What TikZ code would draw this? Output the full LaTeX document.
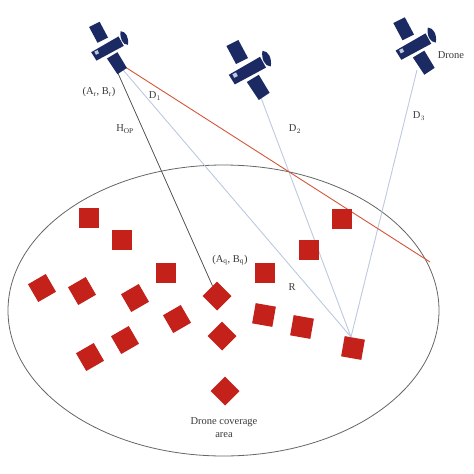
\documentclass[tikz,border=0pt]{standalone}
\usepackage{fontspec}
\setmainfont{Liberation Serif}
\usetikzlibrary{shapes.geometric}
\definecolor{navy}{HTML}{1B2A63}
\definecolor{sq}{HTML}{C4211A}
\definecolor{pale}{HTML}{BCC9DE}
\definecolor{redl}{HTML}{D4553A}
\definecolor{greyl}{HTML}{55565A}
\definecolor{txt}{HTML}{3A3A3C}
\tikzset{
  zone/.style={draw=black!60,line width=0.8pt,fill=white,ellipse,inner sep=0pt,minimum width=431pt,minimum height=291pt},
  cell/.style={fill=sq,draw=none,inner sep=0pt,minimum size=20.5pt},
  lab/.style={font=\fontsize{10.5}{13}\selectfont,text=txt,inner sep=0pt},
  beam/.style={draw=pale,line width=0.9pt},
  part/.style={fill=navy,draw=none},
  pics/sat/.style={code={
    \fill[part] (-18,-20) -- (-8,-25) -- (0,-10) -- (-10,-5) -- cycle;
    \fill[part] (-16,4) -- (10,-11) -- (15,-2) -- (-11,12) -- cycle;
    \fill[part] (-1,10) -- (9,4) -- (18,19) -- (9,25) -- cycle;
    \fill[part] (12,-16) .. controls (17,-16) and (20,-10) .. (19,-3) .. controls (14,-3) and (11,-9) .. (12,-16) -- cycle;
    \fill[pale] (-13,3.5) -- (-10,2) -- (-8.5,5) -- (-11.5,6.5) -- cycle;
  }}
}
\begin{document}
\begin{tikzpicture}[x=1pt,y=-1pt]
\useasboundingbox (0,0) rectangle (474,474);
\node[zone] (area) at (223.5,310.5) {};
\coordinate (s1a) at (117,71);
\coordinate (s1b) at (118,64);
\coordinate (s1c) at (122,65);
\coordinate (s2a) at (260,95);
\coordinate (s3a) at (417,70);
\coordinate (redend) at (430,262);
\node[cell,rotate=45] (q) at (217,296) {};
\node[cell,rotate=-10] (t) at (353,348) {};
\coordinate (tt) at (351,337);
\draw[beam] (s1b) -- (tt);
\draw[beam] (s2a) -- (tt);
\draw[beam] (s3a) -- (tt);
\draw[greyl,line width=0.8pt] (s1a) -- (q);
\draw[redl,line width=0.9pt] (s1c) -- (redend);
\node[cell] (c1) at (89,218) {};
\node[cell] (c2) at (122,240) {};
\node[cell,rotate=30] (c3) at (42,288) {};
\node[cell,rotate=30] (c4) at (82,291) {};
\node[cell,rotate=30] (c5) at (135,298) {};
\node[cell] (c6) at (166,273) {};
\node[cell,rotate=30] (c7) at (177,319) {};
\node[cell,rotate=30] (c8) at (125,340) {};
\node[cell,rotate=30] (c9) at (90,357) {};
\node[cell,rotate=45] (c10) at (222,336) {};
\node[cell,rotate=45] (c11) at (225,391) {};
\node[cell] (c12) at (265,273) {};
\node[cell,rotate=-10] (c13) at (264,315) {};
\node[cell,rotate=-10] (c14) at (302,327) {};
\node[cell] (c15) at (309,250) {};
\node[cell] (c16) at (342,219) {};
\pic[scale=1.05] at (108,48) {sat};
\pic[scale=1.2] at (248,70) {sat};
\pic[scale=1.15] at (414,46) {sat};
\node[lab] (l1) at (99,92) {(A$_{\mathrm{r}}$, B$_{\mathrm{r}}$)};
\node[lab] (l2) at (155,96) {D$_1$};
\node[lab] (l3) at (125,129) {H$_{\mathrm{OP}}$};
\node[lab] (l4) at (295,129) {D$_2$};
\node[lab] (l5) at (419,116) {D$_3$};
\node[lab] (l6) at (451,55) {Drone};
\node[lab] (l7) at (230,260) {(A$_{\mathrm{q}}$, B$_{\mathrm{q}}$)};
\node[lab] (l8) at (292,287) {R};
\node[lab,align=center] (l9) at (224,427.5) {Drone coverage\\area};
\end{tikzpicture}
\end{document}
